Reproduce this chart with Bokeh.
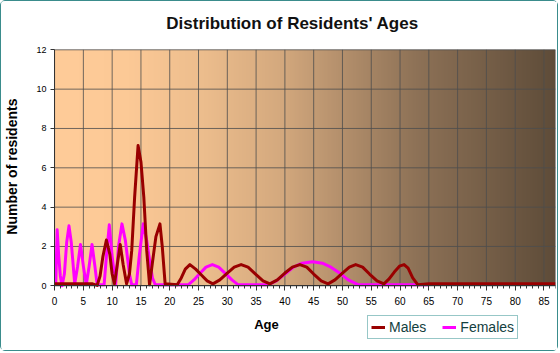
import math
import numpy as np
from bokeh.plotting import figure
from bokeh.models import Range1d, Legend, LegendItem, FixedTicker, Label
from bokeh.embed import file_html
from bokeh.resources import INLINE

title_text = "Distribution of Residents' Ages"
x_label = "Age"
y_label = "Number of residents"
x_ticks = list(range(0, 90, 5))
x_minor = list(range(0, 88))
y_ticks = [0, 2, 4, 6, 8, 10, 12]
x_max = 87
y_max = 12

male_age = [0, 6.6, 7.4, 7.9, 8.4, 9.0, 9.6, 10.0, 10.4, 10.9, 11.4, 11.9, 12.5,
            13.0, 13.4, 13.9, 14.5, 15.0, 15.5, 16.0, 16.5, 17.0, 17.6, 18.3, 18.7, 19.2,
            21.3, 22.0, 22.7, 23.5, 24.5, 25.5, 26.5, 27.5,
            28.7, 30.0, 31.2, 32.4, 33.6, 34.9, 36.2, 37.4,
            38.7, 40.0, 41.3, 42.6, 43.8, 45.0, 46.3, 47.5,
            48.7, 50.0, 51.2, 52.3, 53.5, 54.7, 56.0, 57.2,
            58.1, 59.0, 59.9, 60.7, 61.4, 62.2, 63.1, 65.0, 87.0]
male_count = [0.1, 0.1, 0.02, 0.5, 1.5, 2.33, 1.6, 0.6, 0.1, 1.1, 2.1, 1.1, 0.1,
              0.6, 1.8, 4.5, 7.13, 6.3, 4.5, 1.8, 0.05, 1.2, 2.5, 3.15, 2.0, 0.1,
              0.05, 0.4, 0.85, 1.08, 0.85, 0.55, 0.25, 0.1,
              0.3, 0.65, 0.95, 1.08, 0.95, 0.6, 0.25, 0.1,
              0.3, 0.65, 0.95, 1.08, 0.95, 0.6, 0.25, 0.1,
              0.3, 0.65, 0.95, 1.08, 0.95, 0.6, 0.25, 0.1,
              0.35, 0.7, 1.0, 1.08, 0.9, 0.4, 0.05, 0.1, 0.1]

female_age = [0.2, 0.45, 0.7, 1.0, 1.3, 1.7, 2.1, 2.5, 2.9, 3.5,
              4.0, 4.5, 5.0, 5.5, 6.0, 6.5, 7.0, 7.4, 8.6, 9.0, 9.5, 10.0, 10.6,
              11.1, 11.7, 12.3, 13.0, 13.4, 14.2, 14.7, 15.4, 16.0, 16.5, 17.0, 17.5,
              23.2, 24.2, 25.3, 26.3, 27.4, 28.5, 29.6, 30.8, 31.9,
              37.0, 38.5, 40.0, 41.5, 43.0, 44.8, 46.5, 48.0, 49.5, 51.0, 52.8, 65.0]
female_count = [0.0, 2.85, 1.6, 0.5, 0.0, 0.6, 2.2, 3.05, 2.2, 0.1,
                1.0, 2.1, 1.0, 0.05, 1.0, 2.1, 1.0, 0.05, 0.05, 1.5, 3.1, 1.5, 0.05,
                2.0, 3.15, 2.3, 0.6, 0.05, 0.05, 1.5, 3.15, 2.3, 1.3, 0.4, 0.05,
                0.05, 0.3, 0.65, 0.95, 1.08, 0.95, 0.65, 0.3, 0.05,
                0.05, 0.25, 0.6, 0.95, 1.15, 1.22, 1.15, 0.95, 0.65, 0.3, 0.05, 0.05]

# background gradient style (left peach -> right dark brown)
grad_pos = [0.0, 0.15, 0.3, 0.45, 0.58, 0.72, 0.86, 1.0]
grad_r = [255, 252, 236, 212, 178, 142, 118, 94]
grad_g = [204, 201, 189, 169, 142, 114, 95, 76]
grad_b = [153, 150, 141, 126, 107, 87, 72, 57]

FONT = "Liberation Sans"
GRID = "#4d4d4d"
AXIS = "#333333"

# the frame spans the whole canvas; the plot area is 0..x_max x 0..y_max
x_min_view = -9.22
y_min_view = -3.39
y_top_view = 14.456

p = figure(width=558, height=351, x_range=Range1d(x_min_view, x_max),
           y_range=Range1d(y_min_view, y_top_view),
           output_backend="svg", toolbar_location=None,
           min_border_left=0, min_border_right=4, min_border_top=0, min_border_bottom=0)
p.styles = {"border": "1px solid #3a8c8c", "border-radius": "5px"}
p.background_fill_color = "white"
p.border_fill_color = "white"
p.outline_line_color = None
p.xgrid.visible = False
p.ygrid.visible = False

N = 400
t = np.linspace(0, 1, N)
img = np.empty((1, N), dtype=np.uint32)
view = img.view(dtype=np.uint8).reshape((1, N, 4))
view[0, :, 0] = np.interp(t, grad_pos, grad_r).astype(np.uint8)
view[0, :, 1] = np.interp(t, grad_pos, grad_g).astype(np.uint8)
view[0, :, 2] = np.interp(t, grad_pos, grad_b).astype(np.uint8)
view[0, :, 3] = 255
p.image_rgba(image=[img], x=0, y=0, dw=x_max, dh=y_max, level="image")

# grid lines limited to the plot area
vx = x_ticks + [x_max]
p.segment(x0=vx, y0=[0] * len(vx), x1=vx, y1=[y_max] * len(vx),
          line_color=GRID, line_alpha=0.8, line_width=1)
p.segment(x0=[0] * len(y_ticks), y0=y_ticks, x1=[x_max] * len(y_ticks), y1=y_ticks,
          line_color=GRID, line_alpha=0.8, line_width=1)

f = p.line(female_age, female_count, line_color="#FF00FF", line_width=3, line_join="round")
m = p.line(male_age, male_count, line_color="#990000", line_width=3, line_join="round")

p.xaxis.fixed_location = 0
p.yaxis.fixed_location = 0
p.xaxis.bounds = (0, x_max)
p.yaxis.bounds = (0, y_max)
p.xaxis.ticker = FixedTicker(ticks=x_ticks, minor_ticks=x_minor)
p.yaxis.ticker = FixedTicker(ticks=y_ticks)
for ax in (p.xaxis[0], p.yaxis[0]):
    ax.axis_line_color = AXIS
    ax.major_tick_line_color = AXIS
    ax.minor_tick_line_color = AXIS
    ax.major_tick_in = 0
    ax.minor_tick_in = 0
    ax.major_label_text_font = FONT
    ax.major_label_text_color = "black"
p.xaxis.major_tick_out = 5
p.xaxis.minor_tick_out = 3
p.xaxis.major_label_text_font_size = "10px"
p.xaxis.major_label_standoff = 6
p.yaxis.major_tick_out = 4
p.yaxis.minor_tick_line_color = None
p.yaxis.major_label_text_font_size = "9px"
p.yaxis.major_label_standoff = 4

p.add_layout(Label(x=41.32, y=13.335, text=title_text, text_font=FONT, text_font_size="17px",
                   text_font_style="bold", text_color="#111111",
                   text_align="center", text_baseline="middle"))
p.add_layout(Label(x=36.8, y=-1.97, text=x_label, text_font=FONT, text_font_size="13px",
                   text_font_style="bold", text_color="black",
                   text_align="center", text_baseline="middle"))
p.add_layout(Label(x=-7.31, y=6.06, text=y_label, text_font=FONT, text_font_size="14px",
                   text_font_style="bold", text_color="black", angle=math.pi / 2,
                   text_align="center", text_baseline="middle"))

legend = Legend(items=[LegendItem(label="Males", renderers=[m]),
                       LegendItem(label="Females", renderers=[f])],
                orientation="horizontal", location=(366, 13))
legend.border_line_color = "#2f8f8f"
legend.border_line_width = 1
legend.background_fill_alpha = 0
legend.label_text_font = FONT
legend.label_text_font_size = "14px"
legend.label_text_color = "#134040"
legend.glyph_width = 14
legend.glyph_height = 10
legend.padding = 3
legend.spacing = 16
legend.margin = 0
legend.label_standoff = 4
legend.label_height = 14
p.add_layout(legend)

open("out.html", "w").write(file_html(p, INLINE))
